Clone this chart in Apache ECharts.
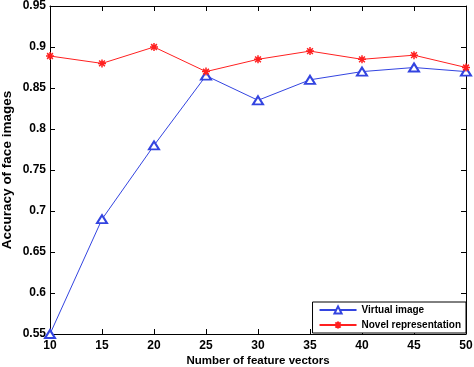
<!DOCTYPE html>
<html><head><meta charset="utf-8">
<script src="https://cdn.jsdelivr.net/npm/echarts@6/dist/echarts.min.js"></script>
<style>html,body{margin:0;padding:0;background:#fff}#c{width:474px;height:367px}</style>
</head><body><div id="c"></div>
<script>
var xValues = [10, 15, 20, 25, 30, 35, 40, 45, 50];
var virtualImage = [0.55, 0.69, 0.78, 0.865, 0.835, 0.86, 0.87, 0.875, 0.87];
var novelRepresentation = [0.889, 0.88, 0.90, 0.87, 0.885, 0.895, 0.885, 0.89, 0.875];
var seriesNames = ['Virtual image', 'Novel representation'];
var xTitle = 'Number of feature vectors';
var yTitle = 'Accuracy of face images';

var font = 'Liberation Sans, Arial, sans-serif';
var star = 'path://M0,-5L0,5M-5,0L5,0M-3.6,-3.6L3.6,3.6M-3.6,3.6L3.6,-3.6';
var chart = echarts.init(document.getElementById('c'));
function pairs(v){ return xValues.map(function(x,i){return [x,v[i]];}); }
var axisLine = {show:true, lineStyle:{color:'#000', width:1}};
var tick = {show:true, inside:true, length:5, lineStyle:{color:'#000'}};
var lbl = {color:'#000', fontFamily:font, fontWeight:'bold', fontSize:12};
chart.setOption({
  animation:false,
  grid:{left:50, right:8, top:6, bottom:33, containLabel:false, outerBoundsMode:'none'},
  xAxis:[
    {type:'value', min:10, max:50, interval:5, position:'bottom',
     axisLine:axisLine, axisTick:tick, splitLine:{show:false},
     axisLabel:Object.assign({margin:6}, lbl),
     name:xTitle, nameLocation:'middle', nameGap:21, nameMoveOverlap:false,
     nameTextStyle:{color:'#000', fontFamily:font, fontWeight:'bold', fontSize:11.5}},
    {type:'value', min:10, max:50, interval:5, position:'top',
     axisLine:axisLine, axisTick:tick, splitLine:{show:false}, axisLabel:{show:false}}
  ],
  yAxis:[
    {type:'value', min:0.55, max:0.95, interval:0.05, position:'left',
     axisLine:axisLine, axisTick:tick, splitLine:{show:false},
     axisLabel:Object.assign({margin:4, formatter:function(v){return String(+v.toFixed(2));}}, lbl),
     name:yTitle, nameLocation:'middle', nameGap:36, nameRotate:90, nameMoveOverlap:false,
     nameTextStyle:{color:'#000', fontFamily:font, fontWeight:'bold', fontSize:13.5}},
    {type:'value', min:0.55, max:0.95, interval:0.05, position:'right',
     axisLine:axisLine, axisTick:tick, splitLine:{show:false}, axisLabel:{show:false}}
  ],
  legend:{
    right:8, bottom:34, orient:'vertical', itemGap:5, itemWidth:37, itemHeight:9,
    padding:[3,5,3,6], borderColor:'#000', borderWidth:1, backgroundColor:'#fff', borderRadius:0,
    textStyle:{color:'#000', fontFamily:font, fontWeight:'bold', fontSize:10},
    data:seriesNames
  },
  series:[
    {name:seriesNames[0], type:'line', data:pairs(virtualImage),
     symbol:'emptyTriangle', symbolSize:[10,8],
     lineStyle:{color:'#3344e0', width:1},
     itemStyle:{color:'#3344e0', borderColor:'#3344e0', borderWidth:1.2}},
    {name:seriesNames[1], type:'line', data:pairs(novelRepresentation),
     symbol:star, symbolSize:8,
     lineStyle:{color:'#ff2020', width:1},
     itemStyle:{color:'#ff2020', borderColor:'#ff2020', borderWidth:1.5}}
  ]
});
</script></body></html>
